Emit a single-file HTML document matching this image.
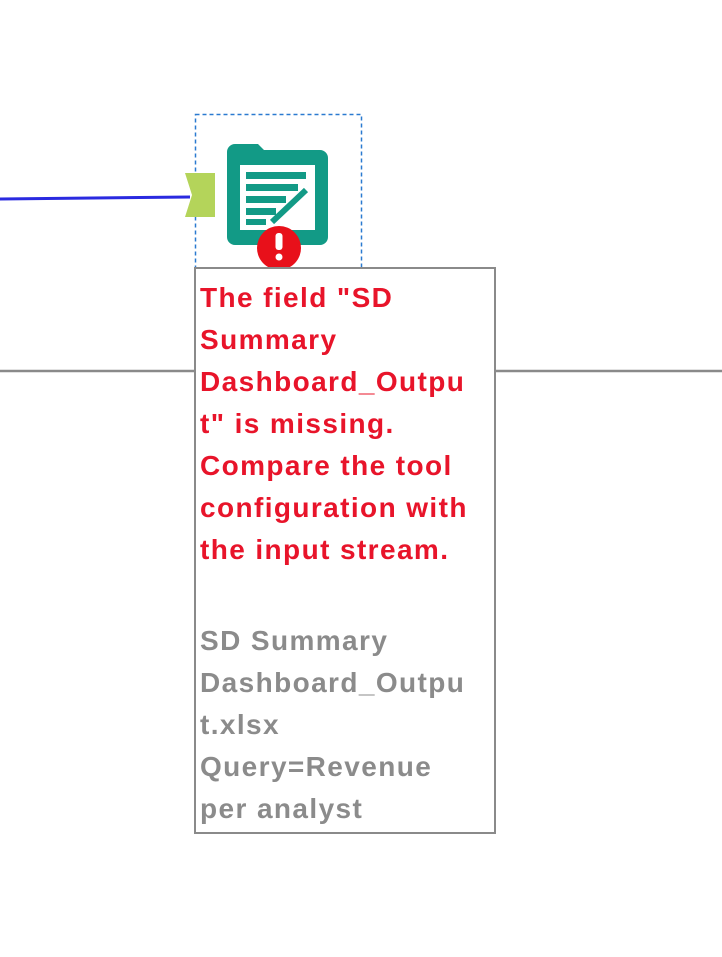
<!DOCTYPE html>
<html><head><style>
html,body{margin:0;padding:0;background:#fff;width:722px;height:957px;overflow:hidden;position:relative;font-family:"Liberation Sans",sans-serif}
.l{position:absolute;left:200px;white-space:nowrap;font-size:28px;line-height:42px;height:42px}
.r{color:#e8142a;font-weight:bold;letter-spacing:1.4px;font-size:28px}
.g{color:#777;letter-spacing:1.4px;font-size:28px;font-weight:bold;opacity:0.85}
</style></head><body>
<svg width="722" height="957" style="position:absolute;left:0;top:0">
 <line x1="0" y1="199" x2="190" y2="197" stroke="#2a2ae0" stroke-width="3"/>
 <line x1="0" y1="371" x2="722" y2="371" stroke="#8a8a8a" stroke-width="2.5"/>
 <rect x="195.5" y="114.5" width="166" height="160" fill="none" stroke="#2a7ad0" stroke-width="1.5" stroke-dasharray="4,3"/>
 <polygon points="185,173 215,173 215,217 185,217 192,195" fill="#b4d45a"/>
 <path d="M236,144 h22 l6,6 h56 a8,8 0 0 1 8,8 v79 a8,8 0 0 1 -8,8 h-85 a8,8 0 0 1 -8,-8 v-85 a8,8 0 0 1 8,-8z" fill="#129a86"/>
 <rect x="240" y="165" width="75" height="65" fill="#fff"/>
 <rect x="246" y="172" width="60" height="7" fill="#129a86"/>
 <rect x="246" y="184" width="52" height="7" fill="#129a86"/>
 <rect x="246" y="196" width="40" height="7" fill="#129a86"/>
 <rect x="246" y="208" width="30" height="7" fill="#129a86"/>
 <rect x="246" y="219" width="20" height="6" fill="#129a86"/>
 <line x1="272" y1="222" x2="306" y2="190" stroke="#129a86" stroke-width="6"/>
 <circle cx="279" cy="248" r="22" fill="#e8101a"/>
 <rect x="275.5" y="233" width="7" height="17" rx="3" fill="#fff"/>
 <circle cx="279" cy="257" r="3.5" fill="#fff"/>
 <rect x="195" y="268" width="300" height="565" fill="#fff" stroke="#8a8a8a" stroke-width="2"/>
</svg>
<div class="l r" style="top:277px">The field "SD</div>
<div class="l r" style="top:319px">Summary</div>
<div class="l r" style="top:361px">Dashboard_Outpu</div>
<div class="l r" style="top:403px">t" is missing.</div>
<div class="l r" style="top:445px">Compare the tool</div>
<div class="l r" style="top:487px">configuration with</div>
<div class="l r" style="top:529px">the input stream.</div>
<div class="l g" style="top:620px">SD Summary</div>
<div class="l g" style="top:662px">Dashboard_Outpu</div>
<div class="l g" style="top:704px">t.xlsx</div>
<div class="l g" style="top:746px">Query=Revenue</div>
<div class="l g" style="top:788px">per analyst</div>
</body></html>
